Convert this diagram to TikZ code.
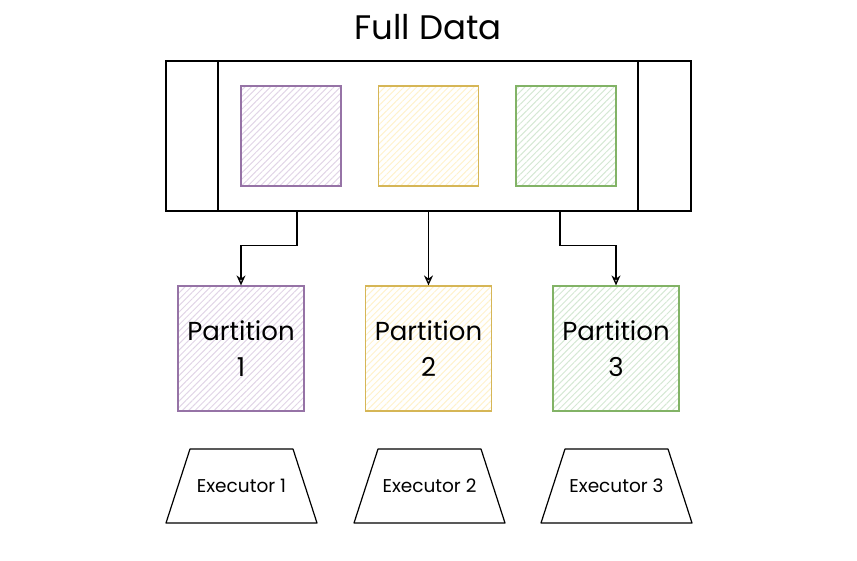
\documentclass[tikz,border=0pt]{standalone}
\usepackage{fontspec}
\setmainfont{Poppins}
\usetikzlibrary{patterns.meta,arrows.meta,calc}
\definecolor{purS}{HTML}{9673A6}\definecolor{purF}{HTML}{E1D5E7}
\definecolor{yelS}{HTML}{D6B656}\definecolor{yelF}{HTML}{FFF2CC}
\definecolor{grnS}{HTML}{82B366}\definecolor{grnF}{HTML}{D5E8D4}
\tikzset{
  hatch/.style={pattern={Lines[angle=45,distance=4.5pt,line width=1pt]},pattern color=#1},
  sq/.style 2 args={draw=#1,line width=1.2pt,hatch=#2,minimum width=100pt,minimum height=100pt,inner sep=0pt},
  part/.style 2 args={draw=#1,line width=1.2pt,hatch=#2,minimum width=126pt,minimum height=125pt,align=center,font=\fontsize{26}{36}\selectfont},
  blk/.style={draw=black,line width=1.2pt},
  arr/.style={line width=1.3pt,-{Stealth[length=10pt,width=9pt,open]}},
  exlab/.style={font=\fontsize{18.5}{20}\selectfont,inner sep=0pt},
}
\begin{document}
\begin{tikzpicture}[x=1pt,y=-1pt]
\useasboundingbox (0,0) rectangle (857,561);
\node[font=\fontsize{34}{36}\selectfont] (title) at (428,27) {Full Data};
\node[blk,minimum width=525pt,minimum height=150pt,inner sep=0pt] (full) at (428.5,136) {};
\coordinate (dl1) at (218,61); \coordinate (dl2) at (218,211);
\coordinate (dr1) at (638,61); \coordinate (dr2) at (638,211);
\draw[blk] (dl1) -- (dl2);
\draw[blk] (dr1) -- (dr2);
\node[sq={purS}{purF}] (s1) at (291,136) {};
\node[sq={yelS}{yelF}] (s2) at (428.5,136) {};
\node[sq={grnS}{grnF}] (s3) at (566,136) {};
\node[part={purS}{purF}] (p1) at (241,348.5) {Partition\\1};
\node[part={yelS}{yelF}] (p2) at (428.5,348.5) {Partition\\2};
\node[part={grnS}{grnF}] (p3) at (616,348.5) {Partition\\3};
\draw[arr] ([xshift=6pt]s1.south |- full.south) -- ++(0,34) -| (p1.north);
\draw[arr] (s2.south |- full.south) -- (p2.north);
\draw[arr] ([xshift=-6pt]s3.south |- full.south) -- ++(0,34) -| (p3.north);
\foreach \i/\cx in {1/241.5,2/429.5,3/616.5}{
  \draw[blk,line join=round] (\cx-51.5,449) -- (\cx+51.5,449) -- (\cx+75.5,523) -- (\cx-75.5,523) -- cycle;
  \node[exlab] (e\i) at (\cx,486) {Executor \i};
}
\end{tikzpicture}
\end{document}
